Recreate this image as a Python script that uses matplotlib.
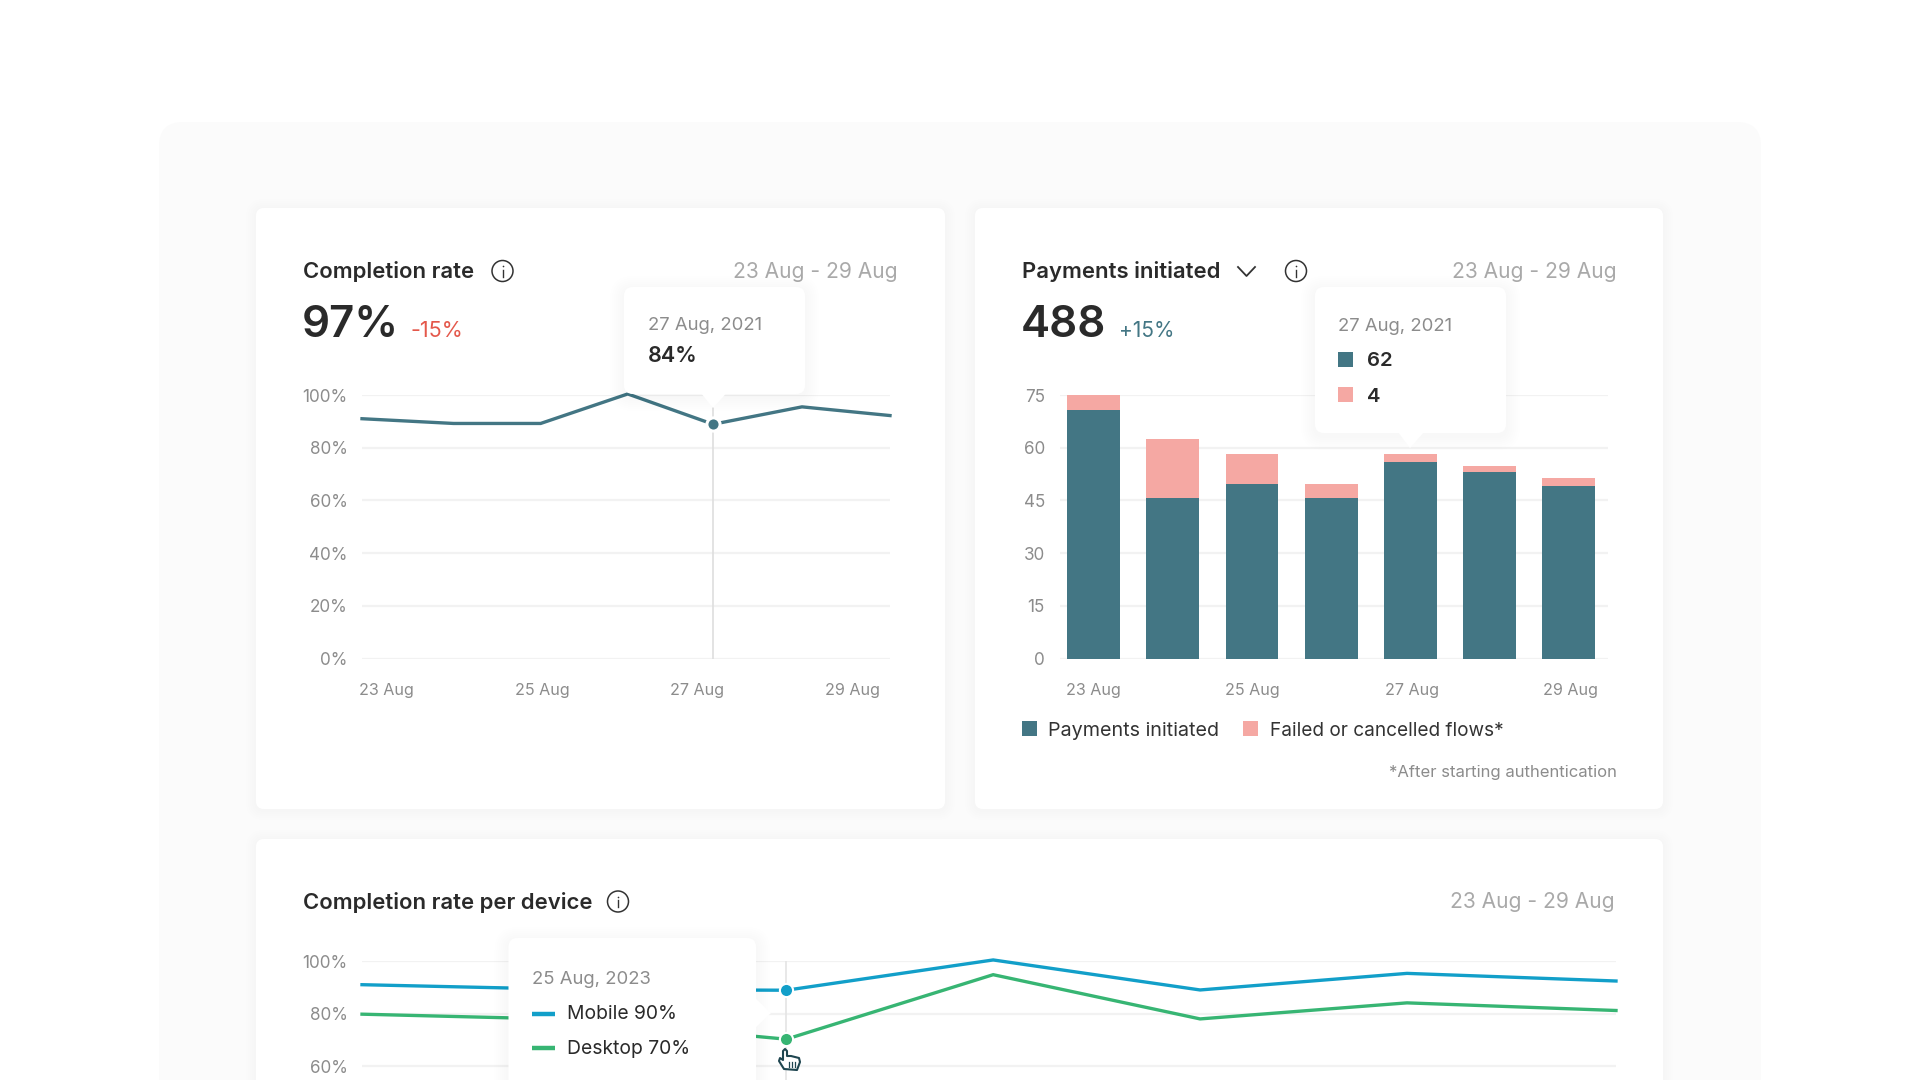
import matplotlib
matplotlib.use("Agg")
import matplotlib.pyplot as plt
from matplotlib.patches import FancyBboxPatch, Polygon, Rectangle, Circle

plt.rcParams['font.family'] = ['Inter', 'DejaVu Sans']

tick_days = ["23 Aug", "25 Aug", "27 Aug", "29 Aug"]

completion_pos = [0, 1.04, 2.03, 3.02, 3.99, 5.0, 6.0]
completion_rate = [91.0, 89.2, 89.2, 100.4, 88.9, 95.5, 92.2]
completion_ticks = [0, 20, 40, 60, 80, 100]
completion_label_pos = [0.28, 2.05, 3.81, 5.57]

payments = [70.6, 45.7, 49.8, 45.7, 56.0, 53.2, 49.0]
failed = [4.3, 16.7, 8.3, 4.1, 2.1, 1.6, 2.4]
payment_ticks = [0, 15, 30, 45, 60, 75]
payment_label_pos = [0, 2.01, 4.02, 6.02]

device_pos = [0, 1.01, 2.03, 3.02, 4.01, 5.0, 6.0]
mobile = [91.0, 89.2, 88.9, 100.4, 89.0, 95.3, 92.4]
desktop = [79.8, 77.8, 70.3, 94.8, 78.0, 84.1, 81.2]
device_ticks = [60, 80, 100]

TEAL = "#437684"
PINK = "#F5A8A3"
BLUE = "#129FC9"
GREEN = "#37B573"
DARK = "#2a2a2a"
GREY = "#8c8c8c"
LIGHT = "#a9a9a9"
GRID = "#f2f2f2"

W, H = 1920, 1080


def px_axes(x0, y0, x1, y1, z):
    # axes placed by its pixel box, y measured from the top
    ax = fig.add_axes([x0 / W, 1 - y1 / H, (x1 - x0) / W, (y1 - y0) / H], zorder=z)
    ax.patch.set_alpha(0)
    for s in ax.spines.values():
        s.set_visible(False)
    return ax


def box(ax, x0, y0, x1, y1, r, color, z, alpha=1.0):
    ax.add_patch(FancyBboxPatch((x0 + r, y0 + r), x1 - x0 - 2 * r, y1 - y0 - 2 * r,
                                boxstyle="round,pad=%g,rounding_size=%g" % (r, r),
                                fc=color, ec="none", alpha=alpha, zorder=z))


def shadow(ax, x0, y0, x1, y1, r, z, strength=0.006, spread=12, dy=2):
    for i in range(spread, 0, -2):
        box(ax, x0 - i, y0 - i + dy, x1 + i, y1 + i + dy, r + i, "black", z, strength)


def info_icon(ax, x, y):
    ax.add_patch(Circle((x, y), 10.5, fc="none", ec="#333333", lw=1.1, zorder=5))
    ax.plot([x, x], [y - 1.5, y + 5.5], color="#333333", lw=1.0, zorder=5)
    ax.plot([x], [y - 5], "o", color="#333333", ms=1.2, mew=0, zorder=5)


def tooltip(x0, y0, x1, y1, arrow):
    shadow(over, x0, y0, x1, y1, 9, 6, 0.005, 14, 3)
    over.add_patch(Polygon(arrow, fc="white", ec="none", zorder=7))
    box(over, x0, y0, x1, y1, 9, "white", 7)


def line_axes(ax, ticks, ymin, ymax):
    ax.set_ylim(ymin, ymax)
    ax.set_yticks(ticks)
    ax.grid(axis="y", color=GRID, lw=1.6)
    ax.set_axisbelow(True)
    ax.tick_params(length=0, labelcolor=GREY)
    ax.tick_params(axis="y", labelsize=12.3, pad=10.5)
    ax.tick_params(axis="x", labelsize=11.6, pad=17.5)


fig = plt.figure(figsize=(19.2, 10.8), dpi=100, facecolor="white")

bg = px_axes(0, 0, W, H, 0)
bg.set_xlim(0, W)
bg.set_ylim(H, 0)
bg.axis("off")

shadow(bg, 159, 122, 1761, 1200, 24, 1, 0.0012, 18, 0)
box(bg, 159, 122, 1761, 1200, 24, "#fbfbfb", 2)
for c in [(256, 208, 945, 809), (975, 208, 1663, 809), (256, 839, 1663, 1200)]:
    shadow(bg, c[0], c[1], c[2], c[3], 8, 3, 0.004, 10, 1)
    box(bg, c[0], c[1], c[2], c[3], 8, "white", 4)

# left line chart
ax1 = px_axes(362, 395, 890, 658.5, 1)
ax1.plot(completion_pos, completion_rate, color=TEAL, lw=2.4, clip_on=False, zorder=3, solid_joinstyle="miter")
ax1.plot([completion_pos[4]] * 2, [0, 95], color="#dedede", lw=1.2, zorder=2)
ax1.plot([completion_pos[4]], [completion_rate[4]], "o", color=TEAL, ms=9.5, mec="white", mew=2.2, zorder=4, clip_on=False)
ax1.set_xlim(0, 6)
line_axes(ax1, completion_ticks, 0, 100)
ax1.set_yticklabels(["%d%%" % t for t in completion_ticks])
ax1.set_xticks(completion_label_pos)
ax1.set_xticklabels(tick_days)

# right stacked bars
ax2 = px_axes(1059.5, 395, 1608, 658.5, 1)
ax2.bar(range(7), payments, width=0.667, color=TEAL, zorder=3)
ax2.bar(range(7), failed, width=0.667, bottom=payments, color=PINK, zorder=3)
ax2.set_xlim(-0.43, 6.496)
line_axes(ax2, payment_ticks, 0, 75)
ax2.set_xticks(payment_label_pos)
ax2.set_xticklabels(tick_days)

# bottom device chart, cut off by the edge of the picture
ax3 = px_axes(362, 961, 1616, 1080, 1)
ax3.plot([device_pos[2]] * 2, [54.8, 100], color="#e4e4e4", lw=1.2, zorder=2)
ax3.plot(device_pos, mobile, color=BLUE, lw=2.4, clip_on=False, zorder=3, solid_joinstyle="miter")
ax3.plot(device_pos, desktop, color=GREEN, lw=2.4, clip_on=False, zorder=3, solid_joinstyle="miter")
ax3.plot([device_pos[2]], [mobile[2]], "o", color=BLUE, ms=9.5, mec="white", mew=1.5, zorder=4)
ax3.plot([device_pos[2]], [desktop[2]], "o", color=GREEN, ms=9.5, mec="white", mew=1.5, zorder=4)
ax3.set_xlim(0, 6)
line_axes(ax3, device_ticks, 54.8, 100)
ax3.set_yticklabels(["%d%%" % t for t in device_ticks])
ax3.set_xticks([])

over = px_axes(0, 0, W, H, 3)
over.set_xlim(0, W)
over.set_ylim(H, 0)
over.axis("off")

title_kw = dict(fontsize=15.9, fontweight="semibold", color=DARK, va="center", zorder=5)
range_kw = dict(fontsize=15.1, color=LIGHT, va="center", ha="right", zorder=5)
big_kw = dict(fontsize=31.5, fontweight="semibold", color=DARK, zorder=5)

# headers
over.text(303, 272, "Completion rate", **title_kw)
info_icon(over, 502.5, 271)
over.text(897.5, 272, "23 Aug - 29 Aug", **range_kw)
over.text(302, 337, "97%", **big_kw)
over.text(411, 337, "-15%", fontsize=15.5, color="#E4584B", zorder=5)

over.text(1022, 272, "Payments initiated", **title_kw)
over.plot([1238, 1246.5, 1255], [267, 276, 267], color="#333333", lw=1.3, zorder=5)
info_icon(over, 1296, 271)
over.text(1616.5, 272, "23 Aug - 29 Aug", **range_kw)
over.text(1021, 337, "488", **big_kw)
over.text(1119, 337, "+15%", fontsize=15, color=TEAL, zorder=5)

over.text(303, 902.5, "Completion rate per device", **title_kw)
info_icon(over, 618, 901.5)
over.text(1615, 902.5, "23 Aug - 29 Aug", **range_kw)

# legend and note of the bar chart
over.add_patch(Rectangle((1021.5, 721), 15, 14.5, fc=TEAL, ec="none", zorder=5))
over.text(1048, 730.5, "Payments initiated", fontsize=14.2, color="#333333", va="center", zorder=5)
over.add_patch(Rectangle((1243, 721), 15, 14.5, fc=PINK, ec="none", zorder=5))
over.text(1270, 730.5, "Failed or cancelled flows*", fontsize=13.7, color="#333333", va="center", zorder=5)
over.text(1616.5, 773, "*After starting authentication", fontsize=12.0, color=GREY, va="center", ha="right", zorder=5)

# tooltips
tooltip(624, 287, 805, 394, [(701, 393), (726.5, 393), (713, 408)])
over.text(648, 325, "27 Aug, 2021", fontsize=13.3, color=GREY, va="center", zorder=8)
over.text(648, 356, "84%", fontsize=15.5, fontweight="semibold", color=DARK, va="center", zorder=8)

tooltip(1315, 287, 1506, 433, [(1398, 432), (1424, 432), (1410, 448)])
over.text(1338, 326.5, "27 Aug, 2021", fontsize=13.3, color=GREY, va="center", zorder=8)
over.add_patch(Rectangle((1338, 352), 15, 14.5, fc=TEAL, ec="none", zorder=8))
over.text(1367, 360.5, "62", fontsize=14.6, fontweight="semibold", color=DARK, va="center", zorder=8)
over.add_patch(Rectangle((1338, 387), 15, 14.5, fc=PINK, ec="none", zorder=8))
over.text(1367, 396.5, "4", fontsize=14.6, fontweight="semibold", color=DARK, va="center", zorder=8)

tooltip(508.5, 938, 756, 1130, [(755, 998), (771, 1013), (755, 1028)])
over.text(532, 979, "25 Aug, 2023", fontsize=13.3, color=GREY, va="center", zorder=8)
over.plot([532, 555], [1013.5, 1013.5], color=BLUE, lw=3.2, solid_capstyle="butt", zorder=8)
over.text(567, 1014, "Mobile 90%", fontsize=13.9, color=DARK, va="center", zorder=8)
over.plot([532, 555], [1048, 1048], color=GREEN, lw=3.2, solid_capstyle="butt", zorder=8)
over.text(567, 1049, "Desktop 70%", fontsize=13.9, color=DARK, va="center", zorder=8)

# hand cursor
hand = [(783, 1051), (783, 1060), (780, 1058), (779, 1061), (784, 1069), (797, 1070),
        (800, 1062), (799, 1058), (795, 1057), (791, 1056), (787, 1056), (787, 1051), (785, 1049)]
over.add_patch(Polygon(hand, fc="white", ec="#1f4650", lw=1.5, zorder=9, joinstyle="round"))
for x in (789, 792, 795):
    over.plot([x, x], [1062, 1067], color="#1f4650", lw=0.9, zorder=10)

fig.savefig("out.png", dpi=100)
